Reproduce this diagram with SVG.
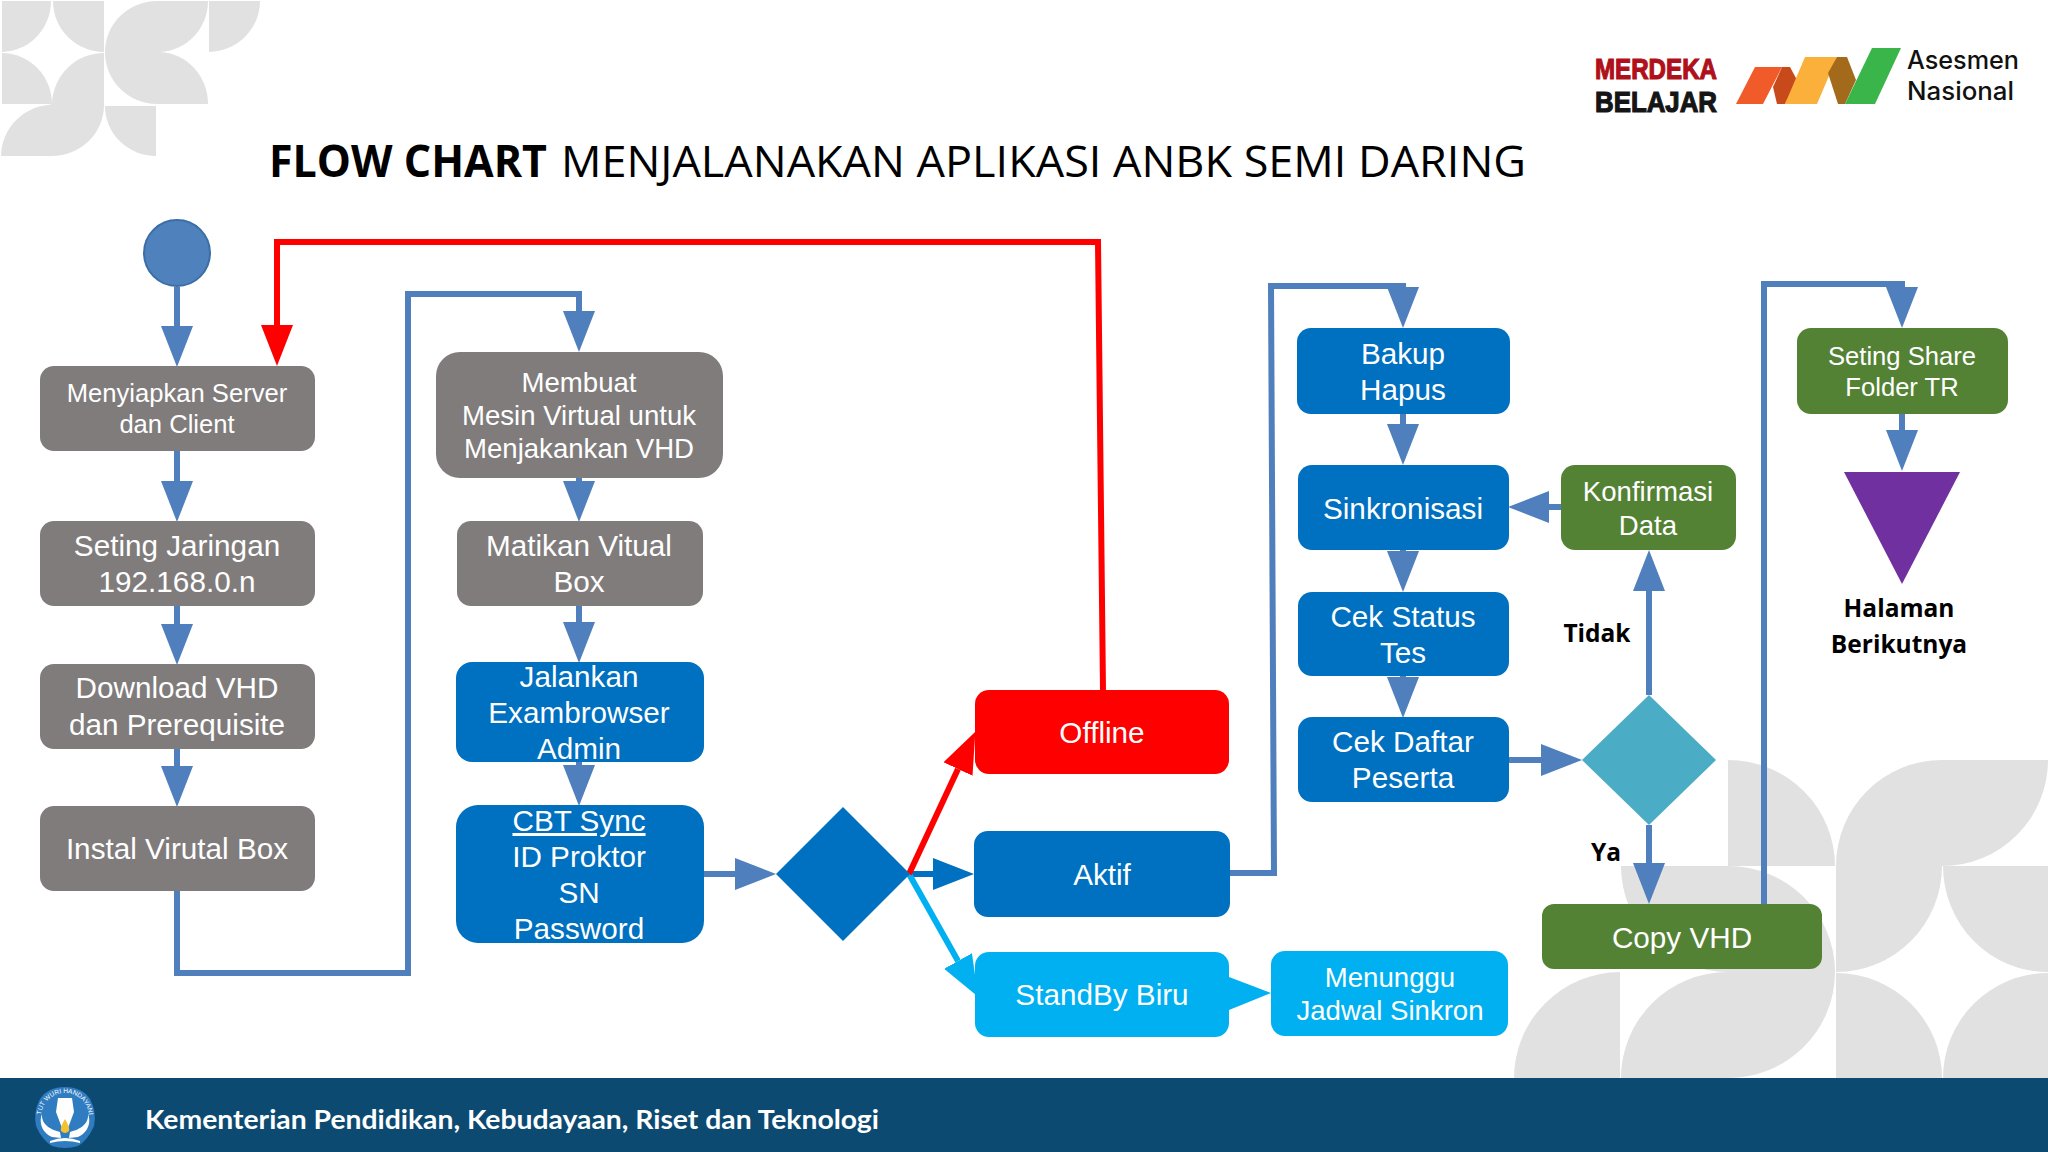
<svg xmlns="http://www.w3.org/2000/svg" width="2048" height="1152" viewBox="0 0 2048 1152">
<style>
text{font-family:"Liberation Sans",Arial,sans-serif;fill:#fff;text-anchor:middle}
.s26{font-size:25.6px}.s28{font-size:27.6px}.s30{font-size:29.7px}
.lb{font-family:"Open Sans","Noto Sans",sans-serif;font-weight:700;font-size:24.5px;fill:#000}
.deco{fill:#e1e1e1}
.c{fill:none;stroke:#4f7fbd;stroke-width:6}
.a{marker-end:url(#ah)}
.gray{fill:#807c7c}.blue{fill:#0070c0}.cyan{fill:#00b0f0}.green{fill:#548235}
</style>
<defs>
<marker id="ah" markerUnits="userSpaceOnUse" markerWidth="42" markerHeight="34" refX="0" refY="17" orient="auto"><path d="M0 1L41 17L0 33Z" fill="#4f7fbd"/></marker>
<marker id="ahr" markerUnits="userSpaceOnUse" markerWidth="42" markerHeight="34" refX="0" refY="17" orient="auto"><path d="M0 1L41 17L0 33Z" fill="#f00"/></marker>
<marker id="ahb" markerUnits="userSpaceOnUse" markerWidth="42" markerHeight="34" refX="0" refY="17" orient="auto"><path d="M0 1L41 17L0 33Z" fill="#0070c0"/></marker>
<marker id="ahc" markerUnits="userSpaceOnUse" markerWidth="42" markerHeight="34" refX="0" refY="17" orient="auto"><path d="M0 1L41 17L0 33Z" fill="#00b0f0"/></marker>
<path id="emb" d="M41 1117a24 24 0 1 1 48 0"/>
</defs>
<rect width="2048" height="1152" fill="#fff"/>
<g id="decor-top">
<path class="deco" d="M2 1H51A50 51 0 0 1 2 52Z"/>
<path class="deco" d="M53 1H104V52A51 51 0 0 1 53 1Z"/>
<path class="deco" d="M105 52A52 51 0 0 1 157 1H208A50 51 0 0 1 160 52A50 52 0 0 1 208 104H157A52 52 0 0 1 105 52Z"/>
<path class="deco" d="M209 1H260A52 51 0 0 1 209 52Z"/>
<path class="deco" d="M2 53A50 51 0 0 1 52 104H2Z"/>
<path class="deco" d="M52 104A52 52 0 0 1 104 53V105A52 51 0 0 1 52 156H1A52 52 0 0 1 48 105Z"/>
<path class="deco" d="M105 106H156V156A51 50 0 0 1 105 106Z"/>
</g>
<g id="decor-bottom">
<path class="deco" d="M1728 760A107 106 0 0 1 1835 866H1728Z"/>
<path class="deco" d="M1621 866H1728A107 106 0 0 1 1835 972A107 106 0 0 1 1728 1078H1621A107 106 0 0 1 1728 972A107 106 0 0 1 1621 866Z"/>
<path class="deco" d="M1514 1078A107 106 0 0 1 1620 972V1078Z"/>
<path class="deco" d="M1836 866A106 106 0 0 1 1942 760H2048A106 106 0 0 1 1942 866A106 106 0 0 1 1836 972Z"/>
<path class="deco" d="M1943 866H2048V972A105 106 0 0 1 1943 866Z"/>
<path class="deco" d="M1836 973A106 105 0 0 1 1942 1078H1836Z"/>
<path class="deco" d="M1943 1078A105 105 0 0 1 2048 973V1078Z"/>
</g>
<rect id="footer" y="1078" width="2048" height="74" fill="#0c4a72"/>
<g id="emblem">
<path d="M65 1087Q82 1087 90 1099Q97 1112 94 1126Q88 1140 78 1146Q65 1150 52 1146Q42 1140 36 1126Q33 1112 40 1099Q48 1087 65 1087Z" fill="#2f7cc1"/>
<path d="M58 1098L72 1098L74 1112L68 1128H62L56 1112Z" fill="#fff"/>
<path d="M42 1114C41 1125 52 1130 60 1132L61 1138L52 1137C44 1134 38 1124 42 1114ZM88 1114C89 1125 78 1130 70 1132L69 1138L78 1137C86 1134 92 1124 88 1114Z" fill="#fff"/>
<path d="M50 1141Q65 1135 80 1141L80 1143Q65 1139 50 1143Z" fill="#fff"/>
<path d="M65 1119Q70 1127 69 1131Q65 1135 61 1131Q60 1127 65 1119Z" fill="#f2c230"/>
<text font-size="6.5" fill="#fff"><textPath href="#emb" startOffset="50%">TUT WURI HANDAYANI</textPath></text>
</g>
<text x="145" y="1129" textLength="734" lengthAdjust="spacingAndGlyphs" style="font-family:Lato,'Open Sans',sans-serif;font-weight:700;font-size:26px;text-anchor:start">Kementerian Pendidikan, Kebudayaan, Riset dan Teknologi</text>
<g id="logo">
<text x="1656" y="79" textLength="122" lengthAdjust="spacingAndGlyphs" style="font-size:30px;font-weight:700;fill:#b0101a;stroke:#b0101a;stroke-width:1.2">MERDEKA</text>
<text x="1656" y="112" textLength="122" lengthAdjust="spacingAndGlyphs" style="font-size:30px;font-weight:700;fill:#151515;stroke:#151515;stroke-width:1.2">BELAJAR</text>
<path d="M1736 104L1755 67H1782L1763 104Z" fill="#f15a29"/>
<path d="M1782 67H1790L1797 80L1785 104H1777L1773 87Z" fill="#c84a1a"/>
<path d="M1785 104L1805 57H1837L1817 104Z" fill="#fbb03b"/>
<path d="M1837 57H1847L1856 80L1845 104H1838L1828 73Z" fill="#a46a1c"/>
<path d="M1845 104L1872 48H1901L1875 104Z" fill="#39b54a"/>
<text x="1907" y="69" textLength="112" lengthAdjust="spacingAndGlyphs" style="font-family:Inter,sans-serif;font-weight:500;font-size:25px;fill:#111;text-anchor:start">Asesmen</text>
<text x="1907" y="100" textLength="107" lengthAdjust="spacingAndGlyphs" style="font-family:Inter,sans-serif;font-weight:500;font-size:25px;fill:#111;text-anchor:start">Nasional</text>
</g>
<g id="title">
<text x="269" y="177" textLength="278" lengthAdjust="spacingAndGlyphs" style="font-family:'Open Sans','Noto Sans',sans-serif;font-size:44px;font-weight:700;fill:#000;text-anchor:start">FLOW CHART</text>
<text x="561" y="177" textLength="965" lengthAdjust="spacingAndGlyphs" style="font-family:'Open Sans','Noto Sans',sans-serif;font-size:44px;fill:#000;text-anchor:start">MENJALANAKAN APLIKASI ANBK SEMI DARING</text>
</g>
<g id="connectors">
<path class="c a" d="M177 287V326"/>
<path class="c a" d="M177 451V481"/>
<path class="c a" d="M177 606V624"/>
<path class="c a" d="M177 749V766"/>
<path class="c a" d="M177 891V973H408V294H579V311"/>
<path class="c a" d="M579 478V481"/>
<path class="c a" d="M579 606V622"/>
<path class="c a" d="M579 762V765"/>
<path class="c a" d="M704 874H735"/>
<path class="c" style="stroke:#0070c0;marker-end:url(#ahb)" d="M909 874H933"/>
<path class="c" style="stroke:#00b0f0;marker-end:url(#ahc)" d="M909 874L958 961"/>
<path class="c" style="stroke:#f00;marker-end:url(#ahr)" d="M909 874L958 769"/>
<path class="c" style="stroke:#f00;marker-end:url(#ahr)" d="M1103 690L1098 242H277V325"/>
<path style="fill:#00b0f0" d="M1229 977L1271 993L1229 1010Z"/>
<path class="c a" d="M1230 873H1274L1271 286H1403V287"/>
<path class="c a" d="M1403 414V424"/>
<path class="c a" d="M1403 550V551"/>
<path class="c a" d="M1403 676V677"/>
<path class="c a" d="M1508 760H1541"/>
<path class="c a" d="M1649 695V591"/>
<path class="c a" d="M1561 507H1549"/>
<path class="c a" d="M1649 825V863"/>
<path class="c a" d="M1764 904V284H1902V287"/>
<path class="c a" d="M1902 414V430"/>
</g>
<g id="start"><circle cx="177" cy="253" r="33" fill="#4f81bd" stroke="#3a6ea5" stroke-width="2"/></g>
<g id="n1"><rect class="gray" x="40" y="366" width="275" height="85" rx="14"/><text class="s26" x="177" y="402">Menyiapkan Server</text><text class="s26" x="177" y="433">dan Client</text></g>
<g id="n2"><rect class="gray" x="40" y="521" width="275" height="85" rx="14"/><text class="s30" x="177" y="556">Seting Jaringan</text><text class="s30" x="177" y="592">192.168.0.n</text></g>
<g id="n3"><rect class="gray" x="40" y="664" width="275" height="85" rx="14"/><text class="s30" x="177" y="698">Download VHD</text><text class="s30" x="177" y="735">dan Prerequisite</text></g>
<g id="n4"><rect class="gray" x="40" y="806" width="275" height="85" rx="14"/><text class="s30" x="177" y="859">Instal Virutal Box</text></g>
<g id="n5"><rect class="gray" x="436" y="352" width="287" height="126" rx="24"/><text class="s28" x="579" y="392">Membuat</text><text class="s28" x="579" y="425">Mesin Virtual untuk</text><text class="s28" x="579" y="458">Menjakankan VHD</text></g>
<g id="n6"><rect class="gray" x="457" y="521" width="246" height="85" rx="14"/><text class="s30" x="579" y="556">Matikan Vitual</text><text class="s30" x="579" y="592">Box</text></g>
<g id="n7"><rect class="blue" x="456" y="662" width="248" height="100" rx="16"/><text class="s30" x="579" y="687">Jalankan</text><text class="s30" x="579" y="723">Exambrowser</text><text class="s30" x="579" y="759">Admin</text></g>
<g id="n8"><rect class="blue" x="456" y="805" width="248" height="138" rx="22"/><text class="s30" x="579" y="831" text-decoration="underline">CBT Sync</text><text class="s30" x="579" y="867">ID Proktor</text><text class="s30" x="579" y="903">SN</text><text class="s30" x="579" y="939">Password</text></g>
<g id="d1"><path class="blue" d="M843 807L910 874L843 941L776 874Z"/></g>
<g id="n9"><rect x="975" y="690" width="254" height="84" rx="14" fill="#f00"/><text class="s30" x="1102" y="743">Offline</text></g>
<g id="n10"><rect class="blue" x="974" y="831" width="256" height="86" rx="14"/><text class="s30" x="1102" y="885">Aktif</text></g>
<g id="n11"><rect class="cyan" x="975" y="952" width="254" height="85" rx="14"/><text class="s30" x="1102" y="1005">StandBy Biru</text></g>
<g id="n12"><rect class="cyan" x="1271" y="951" width="237" height="85" rx="14"/><text class="s28" x="1390" y="987">Menunggu</text><text class="s28" x="1390" y="1020">Jadwal Sinkron</text></g>
<g id="n13"><rect class="blue" x="1297" y="328" width="213" height="86" rx="14"/><text class="s30" x="1403" y="364">Bakup</text><text class="s30" x="1403" y="400">Hapus</text></g>
<g id="n14"><rect class="blue" x="1298" y="465" width="211" height="85" rx="14"/><text class="s30" x="1403" y="519">Sinkronisasi</text></g>
<g id="n15"><rect class="blue" x="1298" y="592" width="211" height="84" rx="14"/><text class="s30" x="1403" y="627">Cek Status</text><text class="s30" x="1403" y="663">Tes</text></g>
<g id="n16"><rect class="blue" x="1298" y="717" width="211" height="85" rx="14"/><text class="s30" x="1403" y="752">Cek Daftar</text><text class="s30" x="1403" y="788">Peserta</text></g>
<g id="n17"><rect class="green" x="1561" y="465" width="175" height="85" rx="14"/><text class="s28" x="1648" y="501">Konfirmasi</text><text class="s28" x="1648" y="535">Data</text></g>
<g id="d2"><path d="M1649 695L1716 760L1649 825L1582 760Z" fill="#4bacc6"/></g>
<g id="n18"><rect class="green" x="1542" y="904" width="280" height="65" rx="12"/><text class="s30" x="1682" y="948">Copy VHD</text></g>
<g id="n19"><rect class="green" x="1797" y="328" width="211" height="86" rx="14"/><text class="s26" x="1902" y="365">Seting Share</text><text class="s26" x="1902" y="396">Folder TR</text></g>
<g id="n20"><path d="M1844 472H1960L1902 584Z" fill="#7030a0"/></g>
<text class="lb" x="1597" y="642">Tidak</text>
<text class="lb" x="1606" y="861">Ya</text>
<text class="lb" x="1899" y="617">Halaman</text>
<text class="lb" x="1899" y="653">Berikutnya</text>
</svg>
